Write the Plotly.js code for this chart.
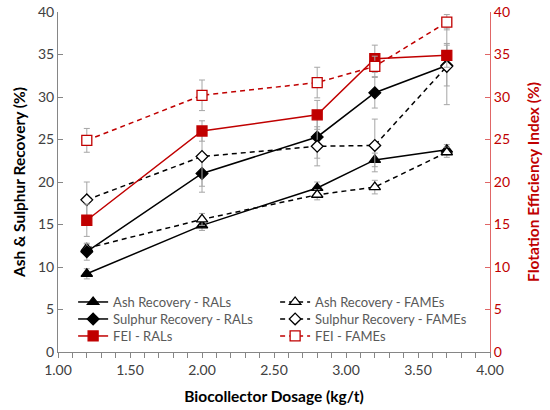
<!DOCTYPE html>
<html>
<head>
<meta charset="utf-8">
<script src="https://cdn.plot.ly/plotly-3.0.1.min.js"></script>
<style>
	body { margin: 0; background: #fff; }
	#graph { width: 550px; height: 410px; }
</style>
</head>
<body>
<div id="graph"></div>
<script>
//DATA
var dosage = [1.2, 2.0, 2.8, 3.2, 3.7];

var ashRAL = [9.2, 14.9, 19.3, 22.6, 23.8];
var ashRALErr = [0.6, 0.6, 0.7, 0.8, 0.6];
var ashFAME = [12.2, 15.6, 18.5, 19.4, 23.5];
var ashFAMEErr = [0.5, 0.7, 0.6, 0.8, 0.6];

var sulRAL = [11.8, 21.0, 25.3, 30.5, 33.7];
var sulRALErr = [1.0, 2.2, 2.5, 1.8, 2.4];
var sulFAME = [17.9, 23.0, 24.2, 24.3, 33.6];
var sulFAMEErr = [2.1, 3.5, 2.3, 3.1, 4.5];

var feiRAL = [15.5, 26.0, 27.9, 34.5, 34.9];
var feiRALErr = [1.9, 1.2, 1.7, 1.6, 1.4];
var feiFAME = [24.9, 30.2, 31.7, 33.6, 38.8];
var feiFAMEErr = [1.4, 1.8, 1.8, 1.2, 0.9];

var names = [
	'Ash Recovery - RALs', 'Ash Recovery - FAMEs',
	'Sulphur Recovery - RALs', 'Sulphur Recovery - FAMEs',
	'FEI - RALs', 'FEI - FAMEs'
];

//HELPER FUNCTIONS
var RED = '#C00000';
var FONT = 'Lato, "Liberation Sans", sans-serif';

function series(name, y, err, symbol, color, fill, dashed, axis, legend){
	return {
		x: dosage, y: y,
		name: name,
		type: 'scatter',
		mode: 'lines+markers',
		yaxis: axis,
		legend: legend,
		line: {color: color, width: 1.5, dash: dashed ? '5px,4px' : 'solid'},
		marker: {
			symbol: symbol,
			size: symbol == 'diamond' ? 9 : 10,
			color: fill,
			line: {color: color, width: 1.3}
		},
		error_y: {type: 'data', array: err, visible: true, color: '#A6A6A6', thickness: 1, width: 3}
	};
}

// one horizontal legend per row, so the rows sit as tight as in the original
function legendRow(y){
	return {
		orientation: 'h',
		font: {family: FONT, size: 13, color: '#595959'},
		bgcolor: 'rgba(0,0,0,0)',
		x: 0.035, xanchor: 'left',
		y: y, yanchor: 'middle',
		entrywidth: 157, entrywidthmode: 'pixels',
		itemwidth: 30
	};
}

//MAIN
var traces = [
	series(names[0], ashRAL, ashRALErr, 'triangle-up', 'black', 'black', false, 'y', 'legend'),
	series(names[1], ashFAME, ashFAMEErr, 'triangle-up', 'black', 'white', true, 'y', 'legend'),
	series(names[2], sulRAL, sulRALErr, 'diamond', 'black', 'black', false, 'y', 'legend2'),
	series(names[3], sulFAME, sulFAMEErr, 'diamond', 'black', 'white', true, 'y', 'legend2'),
	series(names[4], feiRAL, feiRALErr, 'square', RED, RED, false, 'y2', 'legend3'),
	series(names[5], feiFAME, feiFAMEErr, 'square', RED, 'white', true, 'y2', 'legend3')
];

var layout = {
	width: 550, height: 410,
	margin: {l: 58, r: 60, t: 12, b: 58},
	paper_bgcolor: 'white',
	plot_bgcolor: 'white',
	font: {family: FONT, size: 14, color: '#404040'},
	showlegend: true,
	legend: legendRow(0.147),
	legend2: legendRow(0.097),
	legend3: legendRow(0.047),
	xaxis: {
		range: [1, 4],
		dtick: 0.5,
		tickformat: '.2f',
		ticks: 'outside', ticklen: 5, tickcolor: '#868686',
		minor: {dtick: 0.1, ticks: 'outside', ticklen: 5, tickcolor: '#868686'},
		showline: true, linecolor: '#868686', linewidth: 1,
		showgrid: false, zeroline: false,
		title: {text: '<b>Biocollector Dosage (kg/t)</b>', font: {size: 15.5, color: 'black'}, standoff: 14}
	},
	yaxis: {
		range: [0, 40],
		dtick: 5,
		ticks: 'inside', ticklen: 5, tickcolor: '#868686',
		showline: true, linecolor: '#868686', linewidth: 1,
		showgrid: false, zeroline: false,
		title: {text: '<b>Ash & Sulphur Recovery (%)</b>', font: {size: 15.5, color: 'black'}, standoff: 8}
	},
	yaxis2: {
		range: [0, 40],
		dtick: 5,
		overlaying: 'y',
		side: 'right',
		ticks: 'inside', ticklen: 5, tickcolor: '#E06666',
		tickfont: {color: RED},
		showline: true, linecolor: '#E06666', linewidth: 1,
		showgrid: false, zeroline: false,
		title: {text: '<b>Flotation Efficiency Index (%)</b>', font: {size: 15.5, color: RED}, standoff: 19}
	}
};

Plotly.newPlot('graph', traces, layout, {displayModeBar: false, staticPlot: true});
</script>
</body>
</html>
